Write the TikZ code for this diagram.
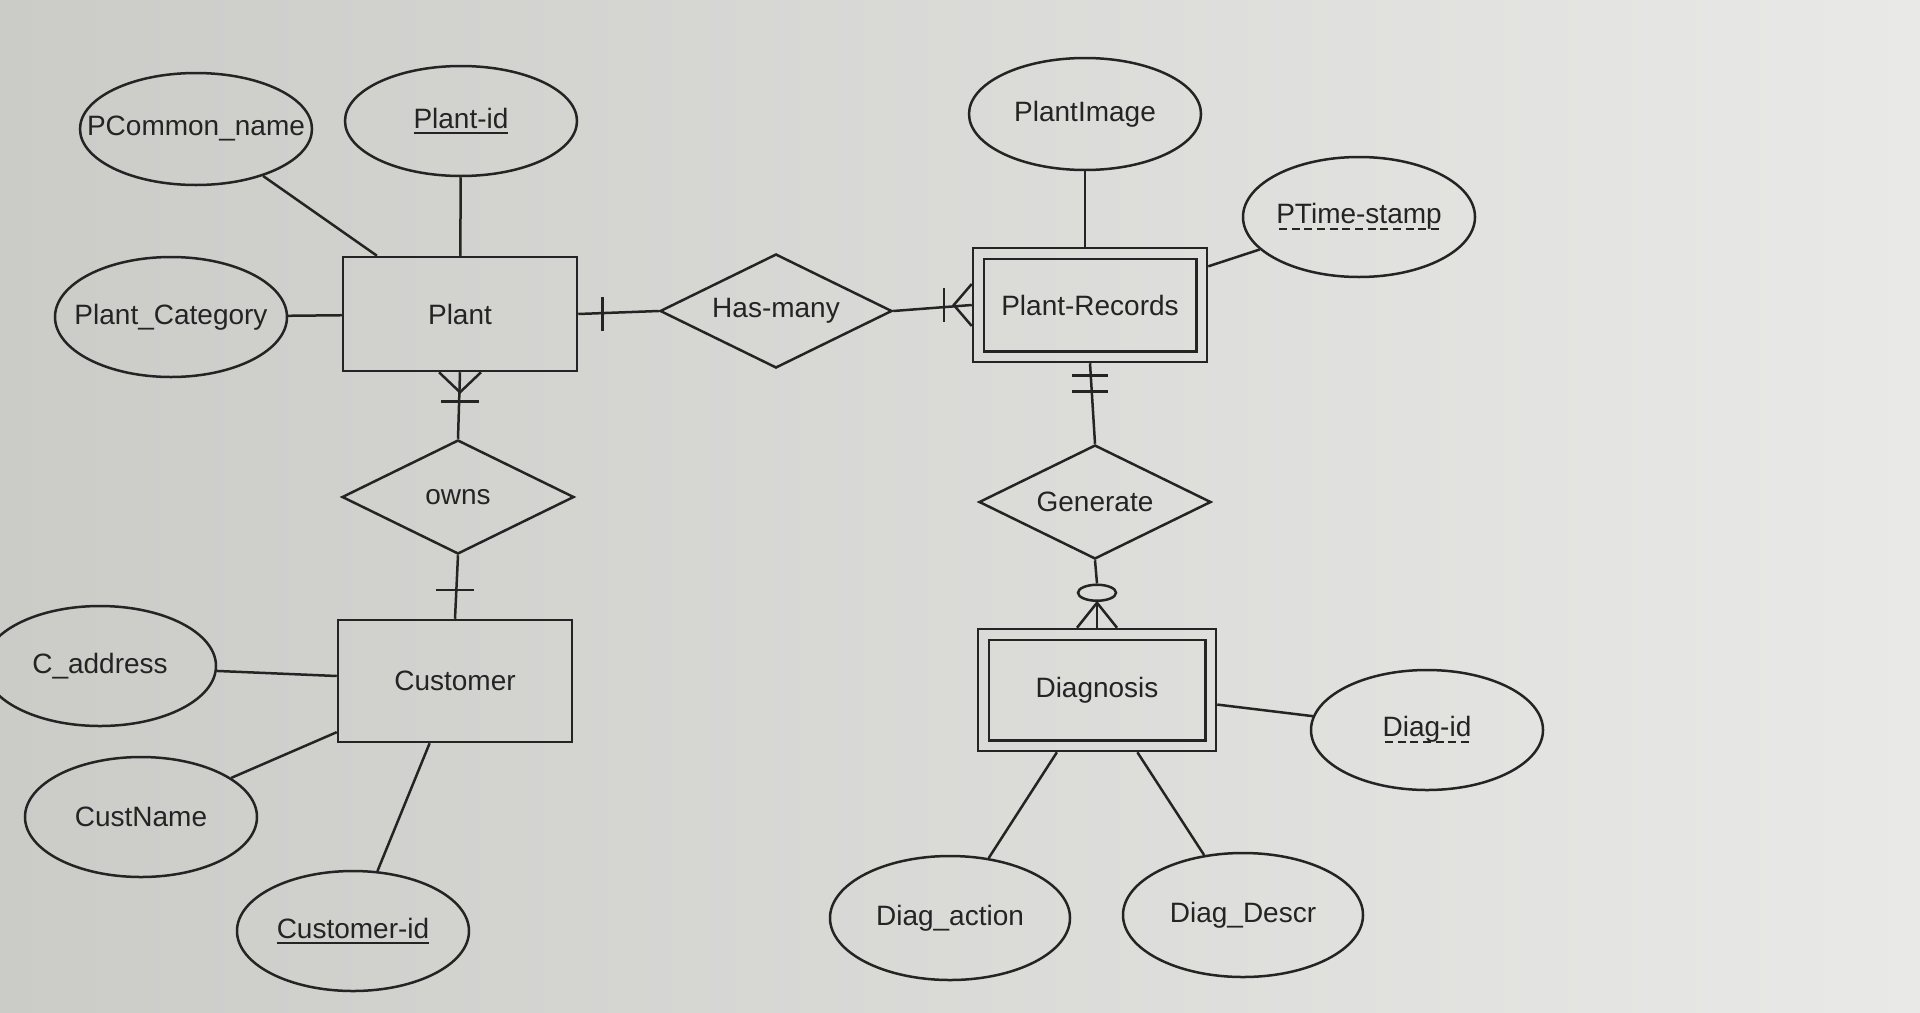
\documentclass[tikz,border=0pt]{standalone}
\usepackage{fontspec}
\setmainfont{Liberation Sans}
\usetikzlibrary{shapes.geometric, calc}
\definecolor{inkgray}{RGB}{36,36,36}
\definecolor{screenL}{RGB}{203,204,200}
\definecolor{screenR}{RGB}{233,234,231}

% underlines for keys (solid) and partial keys (dashed)
\newcommand{\keyul}[1]{\leavevmode\setbox0\hbox{#1}\rlap{\copy0}\lower 3pt\hbox to \wd0{\leaders\hrule height 1pt\hfill}}
\newcommand{\dashul}[1]{\leavevmode\setbox0\hbox{#1}\rlap{\copy0}\lower 3.2pt\hbox to \wd0{\xleaders\hbox to 6pt{\hss\vrule width 4pt height 1.1pt\hss}\hfill}}

\tikzset{
  attrib/.style={ellipse, draw, inner xsep=-20pt, inner ysep=0pt, minimum width=116pt, minimum height=60pt},
  entity/.style={rectangle, draw, inner sep=0pt, minimum width=117pt, minimum height=57pt},
  relation/.style={diamond, draw, aspect=2, inner sep=0pt, minimum width=116pt, minimum height=57pt}
}

\begin{document}
\begin{tikzpicture}[x=0.5pt, y=-0.5pt, line width=1.25pt, color=inkgray, font=\fontsize{14pt}{16pt}\selectfont]
    \useasboundingbox (0,0) rectangle (1920,1012);
    \shade[left color=screenL, right color=screenR] (0,0) rectangle (1920,1012);

    % Plant side
    \node[attrib, minimum height=56pt] (pcommon) at (196,129) {PCommon\_name};
    \node[attrib, minimum height=55pt] (plantid) at (461,121) {\keyul{Plant-id}};
    \node[attrib] (pcat) at (171,317) {Plant\_Category};
    \node[entity] (plant) at (460,314) {Plant};
    \node[relation] (hasmany) at (776,311) {Has-many};
    \node[relation] (owns) at (458,497) {owns};

    % Customer
    \node[entity, minimum height=61pt] (customer) at (455,681) {Customer};
    \node[attrib] (caddr) at (100,666) {C\_address};
    \node[attrib] (custname) at (141,817) {CustName};
    \node[attrib] (custid) at (353,931) {\keyul{Customer-id}};

    % Plant records
    \node[entity] (precs) at (1090,305) {Plant-Records};
    \draw ($(precs.north west)+(12,12)$) rectangle ($(precs.south east)+(-12,-12)$);
    \node[attrib, minimum height=56pt] (pimage) at (1085,114) {PlantImage};
    \node[attrib] (ptime) at (1359,217) {\dashul{PTime-stamp}};
    \node[relation] (generate) at (1095,502) {Generate};

    % Diagnosis
    \node[entity, minimum width=119pt, minimum height=61pt] (diag) at (1097,690) {Diagnosis};
    \draw ($(diag.north west)+(12,12)$) rectangle ($(diag.south east)+(-12,-12)$);
    \node[attrib] (diagid) at (1427,730) {\dashul{Diag-id}};
    \node[attrib, minimum width=120pt, minimum height=62pt] (diagact) at (950,918) {Diag\_action};
    \node[attrib, minimum width=120pt, minimum height=62pt] (diagdesc) at (1243,915) {Diag\_Descr};

    % attributes
    \draw (pcommon) -- (plant);
    \draw (plantid) -- (plant);
    \draw (pcat) -- (plant);
    \draw (pimage.south) -- (pimage.south |- precs.north);
    \draw (ptime) -- (precs);
    \draw (caddr) -- (customer);
    \draw (custname) -- (customer);
    \draw (custid) -- (customer);
    \draw (diagid) -- (diag);
    \draw (diagact) -- (diag);
    \draw (diagdesc) -- (diag);

    % Plant -- Has-many -- Plant-Records
    \draw (plant.east) -- (hasmany.west);
    \draw ($(plant.east)+(24,-17)$) -- ($(plant.east)+(24,17)$);
    \draw (hasmany.east) -- (precs.west);
    \draw ($(precs.west)+(-28,-17)$) -- ($(precs.west)+(-28,17)$);
    \draw ($(precs.west)+(0,-21)$) -- ($(precs.west)+(-18,0)$) -- ($(precs.west)+(0,21)$);

    % Plant -- owns -- Customer
    \draw (plant.south) -- (owns.north);
    \draw ($(plant.south)+(-21,0)$) -- ($(plant.south)+(0,20)$) -- ($(plant.south)+(21,0)$);
    \draw ($(plant.south)+(-19,29)$) -- ($(plant.south)+(19,29)$);
    \draw (owns.south) -- (customer.north);
    \draw ($(customer.north)+(-19,-29)$) -- ($(customer.north)+(19,-29)$);

    % Plant-Records -- Generate -- Diagnosis
    \draw (precs.south) -- (generate.north);
    \foreach \d in {12,28}
        \draw ($(precs.south)+(-18,\d)$) -- ($(precs.south)+(18,\d)$);
    \node[draw, ellipse, inner sep=0pt, minimum width=19pt, minimum height=8pt] (opt) at ($(diag.north)+(0,-35)$) {};
    \draw (generate.south) -- (opt.north);
    \draw (opt.south) -- (diag.north);
    \draw ($(diag.north)+(-20,0)$) -- ($(diag.north)+(0,-25)$) -- ($(diag.north)+(20,0)$);
\end{tikzpicture}
\end{document}
